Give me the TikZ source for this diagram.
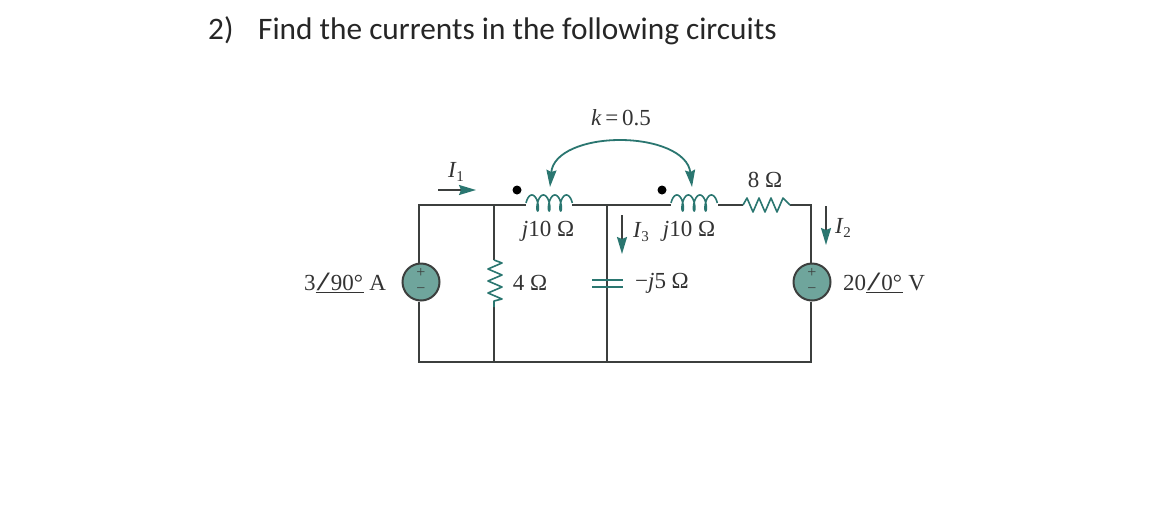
\documentclass[tikz,border=0pt]{standalone}
\usepackage{fontspec}
\setmainfont{Liberation Serif}
\newfontfamily\headfont{Carlito}
\usetikzlibrary{arrows.meta}
\definecolor{wirec}{HTML}{3C3F3E}
\definecolor{tealc}{HTML}{2A7670}
\definecolor{srcfill}{HTML}{6FA59C}
\definecolor{txtc}{HTML}{333333}
\newcommand{\phasorang}[1]{\underline{\kern1pt\scalebox{2.1}[1.15]{/}\kern1pt #1\kern0.5pt}}
\newcommand{\cursym}[1]{\textit{I}\kern-0.5pt\raisebox{-3.5pt}{\fontsize{15}{15}\selectfont #1}}
\tikzset{
 wire/.style={draw=wirec,line width=2pt,line join=miter},
 part/.style={draw=tealc,line width=1.6pt,line join=round},
 source/.style={circle,draw=wirec,line width=2pt,fill=srcfill,minimum size=37pt,inner sep=0pt,text=wirec},
 lab/.style={inner sep=0pt,font=\fontsize{23}{23}\selectfont,text=txtc},
 head/.style={inner sep=0pt,anchor=base west,font=\headfont\fontsize{31.3}{31.3}\selectfont,text=black!85},
 dotn/.style={circle,fill=black,minimum size=9pt,inner sep=0pt},
 sign/.style={inner sep=0pt,font=\fontsize{16}{16}\selectfont,text=wirec},
 tip/.style={-{Stealth[length=17pt,width=10pt,inset=2pt,color=tealc]}},
 curarrow/.style={draw=wirec,line width=1.6pt,tip},
 coupling/.style={draw=tealc,line width=1.8pt,{Stealth[length=17pt,width=10pt,inset=2pt]}-{Stealth[length=17pt,width=10pt,inset=2pt]}}
}
\begin{document}
\begin{tikzpicture}[x=1pt,y=-1pt]
\useasboundingbox (0,0) rectangle (1170,520);
\fill[white] (0,0) rectangle (1170,520);
% heading
\node[head] (num) at (208,39) {2)};
\node[head] (title) at (258,39) {Find the currents in the following circuits};
% junctions
\coordinate (tl) at (419,205); \coordinate (bl) at (419,362);
\coordinate (t2) at (494,205); \coordinate (b2) at (494,362);
\coordinate (t3) at (607,205); \coordinate (b3) at (607,362);
\coordinate (tr) at (811,205); \coordinate (br) at (811,362);
\coordinate (L1a) at (526,205); \coordinate (L1b) at (572,205);
\coordinate (L2a) at (671,205); \coordinate (L2b) at (718,205);
\coordinate (R8a) at (743,205); \coordinate (R8b) at (790,205);
\coordinate (R4a) at (494,260); \coordinate (R4b) at (494,307);
% sources
\node[source] (S1) at (421,282) {};
\node[source] (S2) at (812,282) {};
\foreach \s in {S1,S2}{
  \node[sign] (\s p) at ([yshift=9pt]\s) {+};
  \node[sign] (\s m) at ([yshift=-9pt]\s) {−};
}
% wiring
\draw[wire] (tl |- S1.north) -- (tl) -- (t2) -- (L1a);
\draw[wire] (L1b) -- (t3) -- (L2a);
\draw[wire] (L2b) -- (R8a);
\draw[wire] (R8b) -- (tr) -- (tr |- S2.north);
\draw[wire] (tr |- S2.south) -- (br) -- (bl) -- (bl |- S1.south);
\draw[wire] (t2) -- (R4a);
\draw[wire] (R4b) -- (b2);
\draw[wire] (t3) -- (b3);
% inductors
\draw[part] plot[smooth,samples=120,domain=-90:1170,shift={(L1a)}] ({11.5*\x/360+3*sin(\x)+5.9},{-2-8*cos(\x)});
\draw[part] plot[smooth,samples=120,domain=-90:1170,shift={(L2a)}] ({11.5*\x/360+3*sin(\x)+5.9},{-2-8*cos(\x)});
% resistors
\draw[part] (R8a) -- ++(4,-7) -- ++(6,14) -- ++(6,-14) -- ++(6,14) -- ++(6,-14) -- ++(6,14) -- ++(6,-14) -- (R8b);
\draw[part] (R4a) -- ++(8,3) -- ++(-14,6) -- ++(14,6) -- ++(-14,6) -- ++(14,6) -- ++(-14,6) -- ++(14,6) -- ++(-8,2) -- (R4b);
% capacitor
\coordinate (Ca) at (592,280); \coordinate (Cb) at (623,280);
\coordinate (Cc) at (592,287); \coordinate (Cd) at (623,287);
\draw[part] (Ca) -- (Cb);
\draw[part] (Cc) -- (Cd);
% dots
\node[dotn] (d1) at (517,190) {};
\node[dotn] (d2) at (662,190) {};
% coupling
\coordinate (kl) at (550,187); \coordinate (kr) at (692,187);
\draw[coupling] (kl) .. controls (553,152) and (585,140) .. (620,140) .. controls (655,140) and (688,152) .. (kr);
% current arrows
\coordinate (a1a) at (438,190); \coordinate (a1b) at (476,190);
\coordinate (a3a) at (622,215); \coordinate (a3b) at (622,254);
\coordinate (a2a) at (826,206); \coordinate (a2b) at (826,245);
\draw[curarrow] (a1a) -- (a1b);
\draw[curarrow] (a3a) -- (a3b);
\draw[curarrow] (a2a) -- (a2b);
% labels
\node[lab] (lk) at (621,118) {\textit{k}\,=\,0.5};
\node[lab] (lI1) at (456,172) {\cursym{1}};
\node[lab] (lI3) at (641,232) {\cursym{3}};
\node[lab] (lI2) at (843,228) {\cursym{2}};
\node[lab] (lL1) at (548,231) {\textit{j}10 Ω};
\node[lab] (lL2) at (689,231) {\textit{j}10 Ω};
\node[lab] (l8) at (765,180) {8 Ω};
\node[lab] (l4) at (530,283) {4 Ω};
\node[lab] (lC) at (662,283) {−\textit{j}5 Ω};
\node[lab] (lS1) at (345,283) {3\phasorang{90°} A};
\node[lab] (lS2) at (884,283) {20\phasorang{0°} V};
\end{tikzpicture}
\end{document}
